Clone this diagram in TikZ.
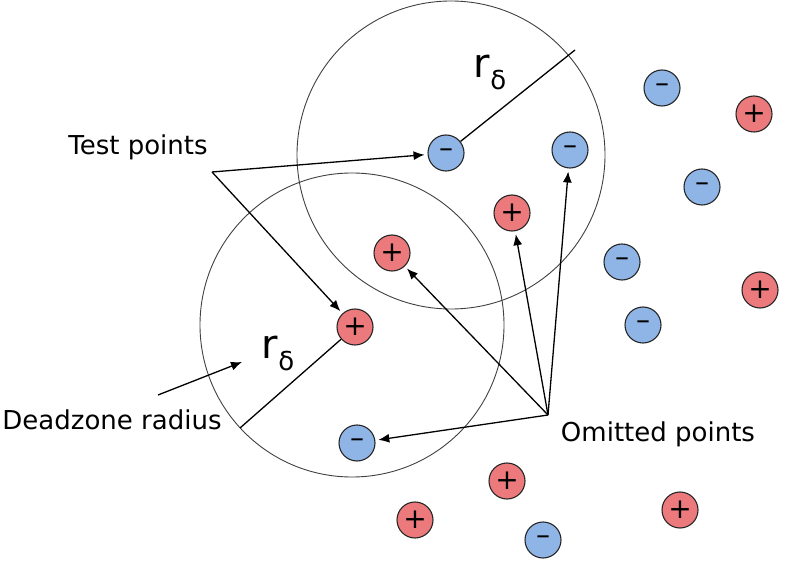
\documentclass[tikz,border=0pt]{standalone}
\usepackage{fontspec}
\setmainfont{DejaVu Sans}
\usetikzlibrary{arrows.meta}
\begin{document}
\begin{tikzpicture}[x=1pt,y=-1pt,
  pt/.style={circle,draw=black!85,line width=1.1pt,minimum size=36pt,inner sep=0pt,font=\fontsize{28}{28}\selectfont},
  neg/.style={pt,fill={rgb,255:red,143;green,180;blue,230}},
  posi/.style={pt,fill={rgb,255:red,236;green,122;blue,124}},
  lab/.style={font=\fontsize{26}{30}\selectfont},
  arr/.style={-{Latex[length=11pt,width=9pt]},line width=1.3pt,shorten >=3pt},
  ring/.style={draw=black!75,line width=0.9pt}]
\useasboundingbox (0,0) rectangle (785,564);
\draw[ring] (451,155) circle (154);
\draw[ring] (352,325) circle (152);
\node[neg] (m1) at (446,153) {–};
\node[neg] (m2) at (570,150) {–};
\node[neg] (m3) at (662,88) {–};
\node[posi] (p1) at (754,114) {+};
\node[neg] (m4) at (702,187) {–};
\node[posi] (p2) at (512,213) {+};
\node[posi] (p3) at (392,253) {+};
\node[neg] (m5) at (622,262) {–};
\node[posi] (p4) at (760,290) {+};
\node[neg] (m6) at (643,325) {–};
\node[posi] (p5) at (355,327) {+};
\node[neg] (m7) at (357,443) {–};
\node[posi] (p6) at (507,481) {+};
\node[posi] (p7) at (415,520) {+};
\node[neg] (m8) at (543,540) {–};
\node[posi] (p8) at (680,510) {+};
\coordinate (e1) at (575,50);
\coordinate (e2) at (240,428);
\draw[line width=1.3pt] (m1) -- (e1);
\draw[line width=1.3pt] (p5) -- (e2);
\node[font=\fontsize{40}{40}\selectfont] (r1) at (490,72) {r\raisebox{-0.3em}{\fontsize{26}{26}\selectfont δ}};
\node[font=\fontsize{40}{40}\selectfont] (r2) at (278,353) {r\raisebox{-0.3em}{\fontsize{26}{26}\selectfont δ}};
\node[lab] (tp) at (138,147) {Test points};
\coordinate (tpa) at (212,172);
\draw[arr] (tpa) -- (m1);
\draw[arr] (tpa) -- (p5);
\node[lab] (dz) at (112,420) {Deadzone radius};
\coordinate (dza) at (158,395);
\coordinate (dzb) at (242,362);
\draw[arr,shorten >=0pt] (dza) -- (dzb);
\node[lab] (op) at (658,434) {Omitted points};
\coordinate (opa) at (548,415);
\draw[arr] (opa) -- (m7);
\draw[arr] (opa) -- (p3);
\draw[arr] (opa) -- (p2);
\draw[arr] (opa) -- (m2);
\end{tikzpicture}
\end{document}
